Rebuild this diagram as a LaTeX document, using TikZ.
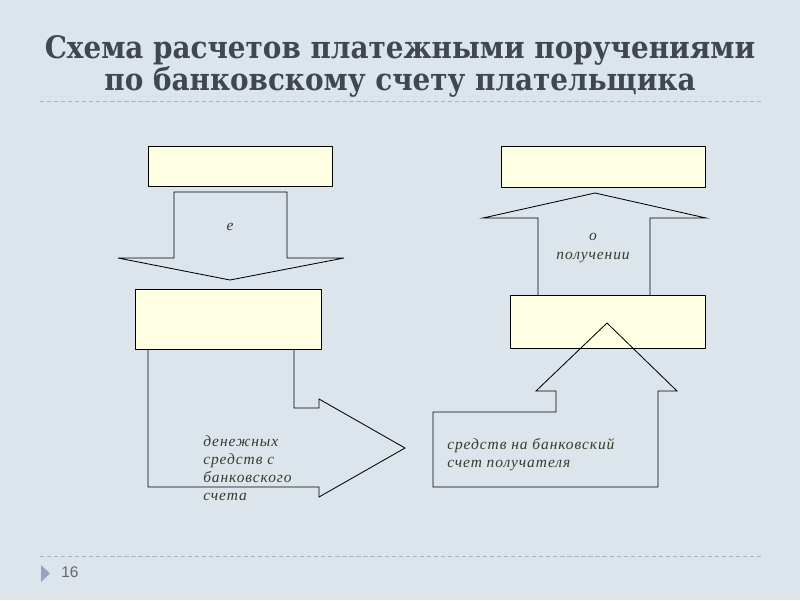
\documentclass[tikz,border=0pt]{standalone}
\usepackage{fontspec}
\setmainfont{Liberation Serif}
\setsansfont{Liberation Sans}
\newfontfamily\titlefont{DejaVu Serif Condensed}
\newfontfamily\notefont[LetterSpace=6]{Liberation Serif}
\definecolor{slidebg}{HTML}{DCE5EC}
\definecolor{titlegray}{HTML}{40474F}
\definecolor{boxfill}{HTML}{FFFFE3}
\definecolor{rulegray}{HTML}{A9B4BE}
\definecolor{notecol}{HTML}{3A3A2C}
\tikzset{
	box/.style={draw=black, fill=boxfill, line width=0.7pt, inner sep=0pt},
	blockarrow/.style={draw=black, line width=0.6pt, line join=miter},
	note/.style={font=\notefont\itshape\fontsize{11}{13}\selectfont, text=notecol, inner sep=0pt, align=left},
	heading/.style={font=\titlefont\bfseries\fontsize{22}{26}\selectfont, text=titlegray}
}
\begin{document}
\begin{tikzpicture}[x=0.025cm, y=-0.025cm, line join=round]
	\fill[slidebg] (0,0) rectangle (800,600);
	\node[heading] (t1) at (400,50) {Схема расчетов платежными поручениями};
	\node[heading] (t2) at (400,82) {по банковскому счету плательщика};
	\draw[rulegray, dashed, dash pattern=on 3pt off 2pt] (40,101)--(762,101) (40,556)--(762,556);
	\fill[rulegray!90!blue] (41,565)--(50,573.5)--(41,582)--cycle;
	\node[font=\sffamily\fontsize{11}{13}\selectfont, text=gray!80!black] (pg) at (70,572) {16};
	% arrows
	\draw[blockarrow] (174,258)--(174,192)--(287,192)--(287,258)--(344,258)--(230,280)--(118,258)--cycle;
	\draw[blockarrow] (538,295)--(538,218)--(483,218)--(595,193)--(706,218)--(650,218)--(650,295);
	\draw[blockarrow] (148,349)--(148,487)--(319,487)--(319,497)--(405,448)--(319,399)--(319,408)--(294,408)--(294,349);
	% boxes
	\node[box, minimum width=4.575cm, minimum height=1cm] (b1) at (240.5,166) {};
	\node[box, minimum width=4.625cm, minimum height=1.5cm] (b2) at (228.5,319) {};
	\node[box, minimum width=5.075cm, minimum height=1.025cm] (b3) at (603.5,166.5) {};
	\node[box, minimum width=4.85cm, minimum height=1.325cm] (b4) at (608,321.5) {};
	\draw[blockarrow] (607,323)--(677,391)--(658,391)--(658,487)--(433,487)--(433,412)--(556,412)--(556,391)--(536,391)--cycle;
	% labels
	\node[note] (l1) at (230,227) {е};
	\node[note, align=center] (l2) at (593,248) {о\\получении};
	\node[note, anchor=north west] (l3) at (203,435) {денежных\\средств с\\банковского\\счета};
	\node[note, anchor=north west] (l4) at (447,438) {средств на банковский\\счет получателя};
\end{tikzpicture}
\end{document}
